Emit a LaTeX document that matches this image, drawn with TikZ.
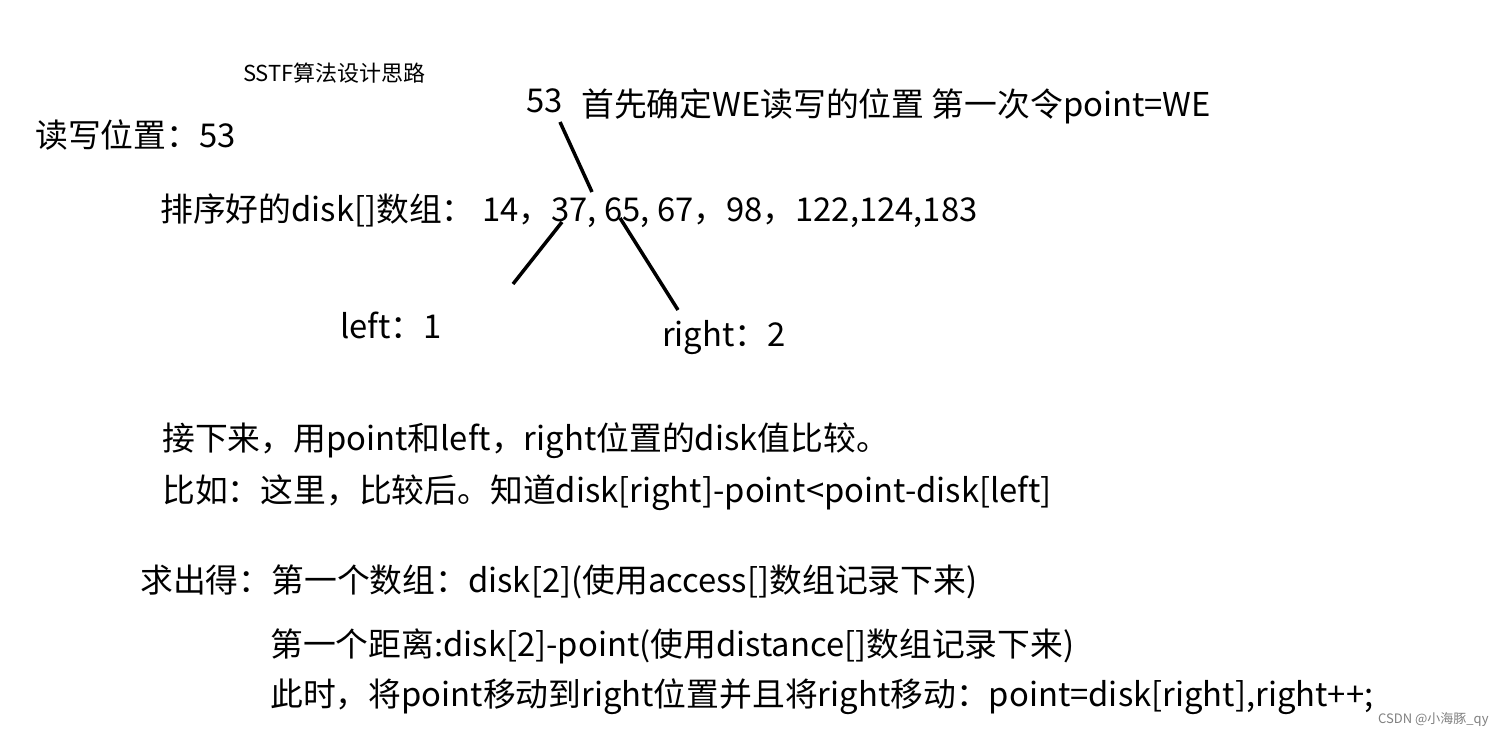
\documentclass[tikz,border=0pt]{standalone}
\usepackage{fontspec}
\setmainfont{Noto Sans CJK SC}
\begin{document}
\begin{tikzpicture}[x=1pt,y=-1pt,
  t/.style={anchor=west,inner sep=0pt,font=\fontsize{32.8}{38}\selectfont},
  ln/.style={line width=3.5pt}]
\useasboundingbox (0,0) rectangle (1491,741);
\fill[white] (0,0) rectangle (1491,741);
\node[t,font=\fontsize{22}{26}\selectfont] (title) at (243,73) {SSTF算法设计思路};
\node[t] (n53) at (526,101) {53};
\node[t] (first) at (581,106) {首先确定WE读写的位置 第一次令point=WE};
\node[t] (rw) at (35,135) {读写位置：53};
\node[t] (arr) at (160,211) {排序好的disk[]数组：\ 14，37, 65, 67，98，122,124,183};
\node[t] (left) at (340,325) {left：1};
\node[t] (right) at (662,338) {right：2};
\node[t] (l1) at (162,441) {接下来，用point和left，right位置的disk值比较。};
\node[t] (l2) at (162,493) {比如：这里，比较后。知道disk[right]-point<point-disk[left]};
\node[t] (l3) at (140,582) {求出得：第一个数组：disk[2](使用access[]数组记录下来)};
\node[t] (l4) at (270,646) {第一个距离:disk[2]-point(使用distance[]数组记录下来)};
\node[t] (l5) at (270,697) {此时，将point移动到right位置并且将right移动：point=disk[right],right++;};
\node[t,font=\fontsize{13}{15}\selectfont,text=gray] (wm) at (1378,720) {CSDN @小海豚\_qy};
\coordinate (a1) at (560,122); \coordinate (a2) at (592,192);
\coordinate (b1) at (562,222); \coordinate (b2) at (513,284);
\coordinate (c1) at (620,218); \coordinate (c2) at (678,310);
\draw[ln] (a1) -- (a2);
\draw[ln] (b1) -- (b2);
\draw[ln] (c1) -- (c2);
\end{tikzpicture}
\end{document}
